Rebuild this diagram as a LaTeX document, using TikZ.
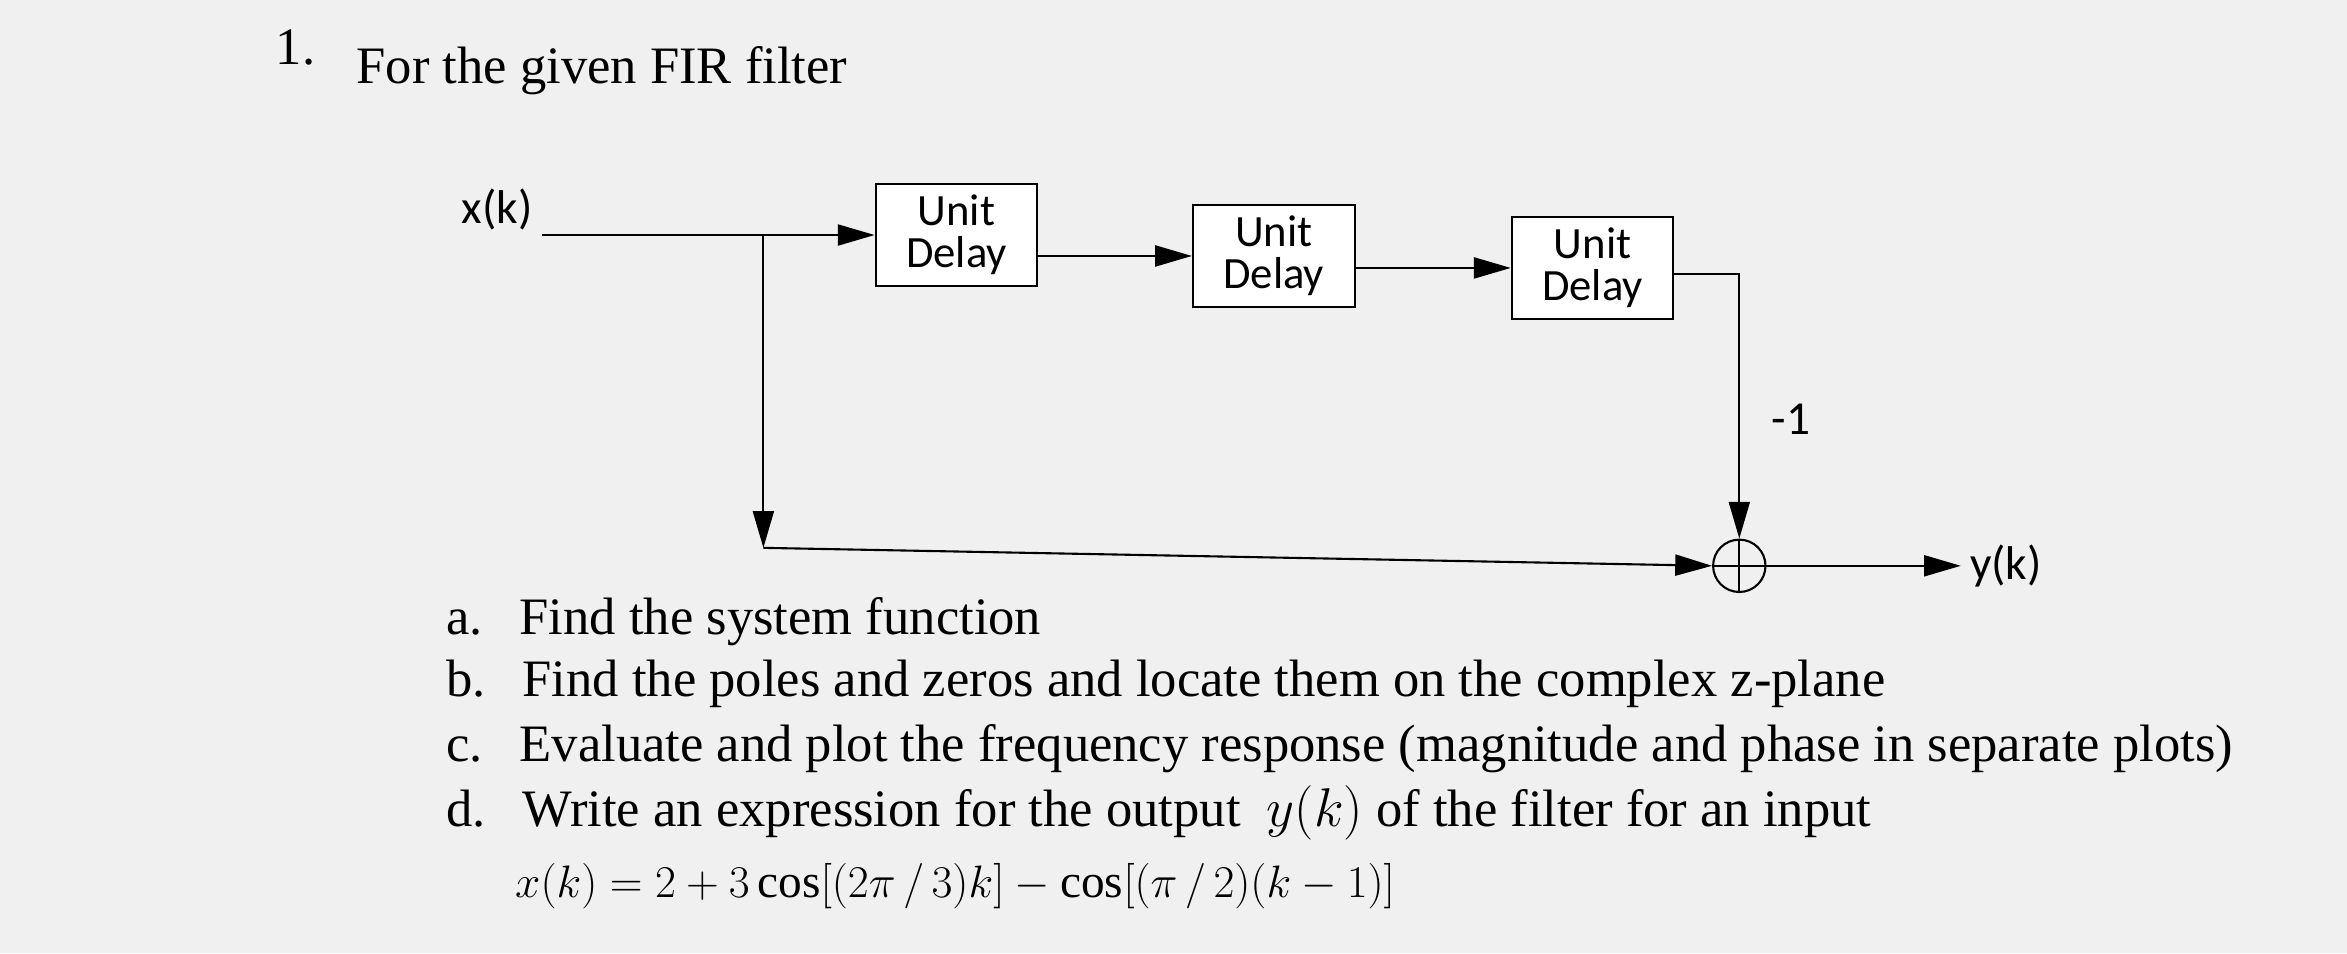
\documentclass[tikz,border=0pt]{standalone}
\usepackage{fontspec}
\setmainfont{Liberation Serif}
\newfontfamily\diagfont{Carlito}
\usetikzlibrary{arrows.meta,positioning}

\begin{document}
\begin{tikzpicture}[x=0.02cm,y=-0.02cm,>={Triangle[length=14pt,width=8pt]}]
  % Fondo
  \fill[black!6] (0,0) rectangle (1568,637);
  \useasboundingbox (0,0) rectangle (1568,637);
  \tikzset{
    delaybox/.style={draw,thick,fill=white,minimum width=2.16cm,minimum height=1.36cm,align=center,inner sep=1pt,font=\diagfont\fontsize{17}{16}\selectfont},
    sig/.style={font=\diagfont\fontsize{18}{20}\selectfont},
    task/.style={anchor=west,font=\fontsize{20}{24}\selectfont}
  }

  % Titulo
  \node[task] (num) at (178,32) {1.};
  \node[task] (title) at (232,47) {For the given FIR filter};

  % Bloques de retardo
  \node[sig,anchor=east] (x) at (362,140) {x(k)};
  \node[delaybox] (d1) at (639,157) {Unit\\Delay};
  \node[delaybox] (d2) at (851,171) {Unit\\Delay};
  \node[delaybox] (d3) at (1064,179) {Unit\\Delay};
  \node[draw,thick,circle,minimum size=0.7cm] (sum) at (1162,378) {};
  \draw[thick] (sum.north) -- (sum.south) (sum.west) -- (sum.east);
  \node[sig,anchor=west] (y) at (1310,378) {y(k)};
  \coordinate (split) at (510,157);
  \coordinate (low) at (510,366);
  \coordinate (turn) at (1162,183);

  % Conexiones
  \draw[thick,->] (x.east |- d1) -- (d1.west);
  \draw[thick,->] (d1.east |- d2) -- (d2.west);
  \draw[thick,->] (d2.east |- d3) -- (d3.west);
  \draw[thick,->] (split) -- (low);
  \draw[thick,->] (low) -- (sum.west);
  \draw[thick,->] (d3.east |- turn) -- (turn) -- (sum.north)
    node[sig,pos=0.55,right=0.3cm] {-1};
  \draw[thick,->] (sum.east) -- (y.west);

  % Preguntas
  \node[task] (a) at (292,415) {a.\hspace{0.7em}Find the system function};
  \node[task] (b) at (292,457) {b.\hspace{0.7em}Find the poles and zeros and locate them on the complex z-plane};
  \node[task] (c) at (292,500) {c.\hspace{0.7em}Evaluate and plot the frequency response (magnitude and phase in separate plots)};
  \node[task] (d) at (292,543) {d.\hspace{0.7em}Write an expression for the output \ $y(k)$ of the filter for an input};
  \node[task,font=\fontsize{18}{22}\selectfont] (eq) at (338,592) {$x(k)=2+3\cos[(2\pi\,/\,3)k]-\cos[(\pi\,/\,2)(k-1)]$};
\end{tikzpicture}
\end{document}
